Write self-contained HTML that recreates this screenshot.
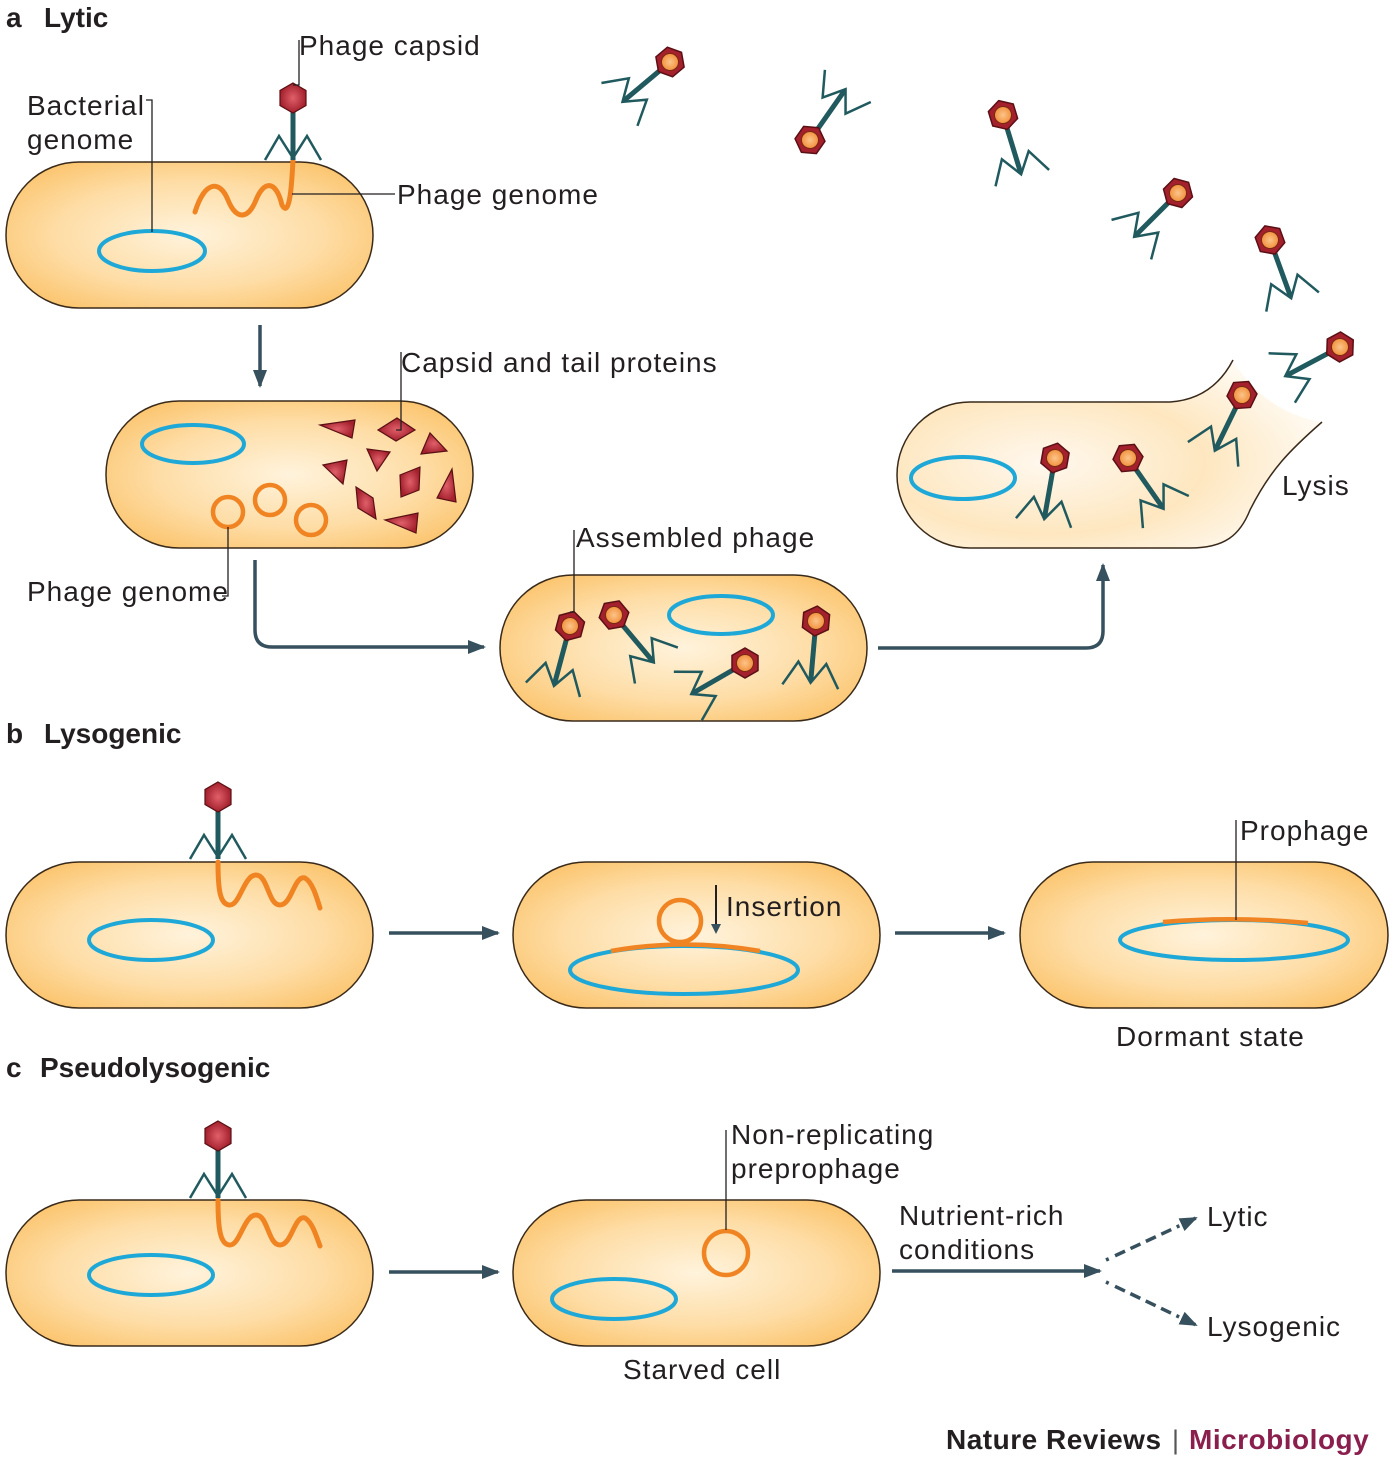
<!DOCTYPE html>
<html><head><meta charset="utf-8"><style>
body{margin:0;background:#fff}
svg{display:block}
text{font-family:"Liberation Sans",sans-serif;fill:#231f20}
.t{font-size:28px;letter-spacing:1px}
.h{font-size:28px;font-weight:bold}
</style></head><body>
<svg width="1395" height="1463" viewBox="0 0 1395 1463" xmlns="http://www.w3.org/2000/svg">
<defs>
<radialGradient id="cg" cx="50%" cy="50%" r="60%">
<stop offset="0" stop-color="#fff3dc"/><stop offset="0.6" stop-color="#fedda6"/><stop offset="1" stop-color="#fbc56f"/>
</radialGradient>
<radialGradient id="lg" cx="35%" cy="55%" r="75%">
<stop offset="0" stop-color="#fff8ee"/><stop offset="0.5" stop-color="#fee7c0"/><stop offset="1" stop-color="#fff"/>
</radialGradient>
<radialGradient id="hg"><stop offset="0" stop-color="#e0606a"/><stop offset="1" stop-color="#a3202c"/></radialGradient>
<radialGradient id="og"><stop offset="0" stop-color="#fcc48a"/><stop offset="1" stop-color="#f2923e"/></radialGradient>
<g id="ph">
<line x1="0" y1="10" x2="0" y2="60" stroke="#205a5e" stroke-width="5"/>
<polyline points="-28,66 -14,42 0,62 14,42 28,66" fill="none" stroke="#205a5e" stroke-width="2.5"/>
<polygon points="0,-15 13,-7.5 13,7.5 0,15 -13,7.5 -13,-7.5" fill="#a3202c" stroke="#5a1015" stroke-width="1.5"/>
<circle r="8.5" fill="url(#og)" stroke="#7a2a10" stroke-width="1"/>
</g>
<g id="pa">
<line x1="0" y1="10" x2="0" y2="62" stroke="#205a5e" stroke-width="5"/>
<polyline points="-28,62 -14,38 0,60 14,38 28,62" fill="none" stroke="#205a5e" stroke-width="2.5"/>
<polygon points="0,-15 13,-7.5 13,7.5 0,15 -13,7.5 -13,-7.5" fill="url(#hg)" stroke="#5a1015" stroke-width="1.2"/>
</g>
<marker id="ar" markerWidth="10" markerHeight="10" refX="8" refY="5" orient="auto" markerUnits="userSpaceOnUse" viewBox="0 0 10 10"><path d="M0,0 L10,5 L0,10 z" fill="#37505e"/></marker>
<marker id="ar2" markerWidth="18" markerHeight="14" refX="16" refY="7" orient="auto" markerUnits="userSpaceOnUse"><path d="M0,0 L18,7 L0,14 z" fill="#37505e"/></marker>
</defs>

<text x="6" y="27" class="h">a</text><text x="44" y="27" class="h">Lytic</text>
<text x="6" y="743" class="h">b</text><text x="44" y="743" class="h">Lysogenic</text>
<text x="6" y="1077" class="h">c</text><text x="40" y="1077" class="h">Pseudolysogenic</text>

<rect x="6" y="162" width="367" height="146" rx="73" fill="url(#cg)" stroke="#3a2a1a" stroke-width="1.5"/>
<ellipse cx="152" cy="251" rx="53" ry="20" fill="none" stroke="#1ea8d8" stroke-width="4"/>
<path d="M195,212 C205,180 220,180 228,200 C236,220 248,220 256,200 C264,180 276,180 282,205 C290,220 292,180 293,160" fill="none" stroke="#f08423" stroke-width="5" stroke-linecap="round"/>
<use href="#pa" x="293" y="98"/>
<polyline points="293,85 299,85 299,40" fill="none" stroke="#231f20" stroke-width="1.3"/>
<text x="299" y="55" class="t">Phage capsid</text>
<polyline points="146,100 152,100 152,232" fill="none" stroke="#231f20" stroke-width="1.3"/>
<text x="27" y="115" class="t">Bacterial</text><text x="27" y="149" class="t">genome</text>
<line x1="292" y1="194" x2="395" y2="194" stroke="#231f20" stroke-width="1.3"/>
<text x="397" y="204" class="t">Phage genome</text>

<line x1="260" y1="325" x2="260" y2="386" stroke="#37505e" stroke-width="3.5" marker-end="url(#ar2)"/>

<rect x="106" y="401" width="367" height="147" rx="73" fill="url(#cg)" stroke="#3a2a1a" stroke-width="1.5"/>
<ellipse cx="193" cy="444" rx="51" ry="19" fill="none" stroke="#1ea8d8" stroke-width="4"/>
<g fill="none" stroke="#f08423" stroke-width="4.5">
<circle cx="228" cy="512" r="15"/><circle cx="270" cy="500" r="15"/><circle cx="311" cy="520" r="15"/>
</g>
<g fill="url(#hg)" stroke="#5a1015" stroke-width="1.2">
<polygon points="320,425 355,420 352,438"/>
<polygon points="378,430 397,418 415,430 396,441"/>
<polygon points="421,454 430,433 447,451"/>
<polygon points="367,449 390,452 377,471"/>
<polygon points="323,465 347,460 343,484"/>
<polygon points="400,475 420,467 419,490 401,497"/>
<polygon points="356,487 373,498 376,519 358,508"/>
<polygon points="385,520 418,513 416,533"/>
<polygon points="437,498 452,469 456,502"/>
</g>
<polyline points="396,430 401,430 401,352" fill="none" stroke="#231f20" stroke-width="1.3"/>
<text x="401" y="372" class="t">Capsid and tail proteins</text>
<polyline points="228,527 228,596 222,596" fill="none" stroke="#231f20" stroke-width="1.3"/>
<text x="27" y="601" class="t">Phage genome</text>

<path d="M255,560 L255,630 Q255,647 272,647 L484,647" fill="none" stroke="#37505e" stroke-width="3.5" marker-end="url(#ar2)"/>

<rect x="500" y="575" width="367" height="146" rx="73" fill="url(#cg)" stroke="#3a2a1a" stroke-width="1.5"/>
<ellipse cx="721" cy="615" rx="52" ry="19" fill="none" stroke="#1ea8d8" stroke-width="4"/>
<use href="#ph" transform="translate(570,626) rotate(15)"/>
<use href="#ph" transform="translate(614,615) rotate(-40)"/>
<use href="#ph" transform="translate(745,663) rotate(60)"/>
<use href="#ph" transform="translate(816,621) rotate(5)"/>
<polyline points="570,612 574,612 574,530" fill="none" stroke="#231f20" stroke-width="1.3"/>
<text x="576" y="547" class="t">Assembled phage</text>

<path d="M878,648 L1086,648 Q1103,648 1103,631 L1103,565" fill="none" stroke="#37505e" stroke-width="3.5" marker-end="url(#ar2)"/>

<path d="M970,402 L1170,402 C1200,400 1220,385 1233,360 C1250,390 1280,415 1322,422 C1290,450 1270,470 1250,510 C1240,535 1225,548 1190,548 L970,548 A73,73 0 0 1 970,402 Z" fill="url(#lg)" stroke="none"/>
<path d="M1233,360 C1220,385 1200,400 1170,402 L970,402 A73,73 0 0 0 970,548 L1190,548 C1225,548 1240,535 1250,510 C1270,470 1290,450 1322,422" fill="none" stroke="#3a2a1a" stroke-width="1.5"/>
<ellipse cx="963" cy="478" rx="52" ry="21" fill="none" stroke="#1ea8d8" stroke-width="4"/>
<text x="1282" y="495" class="t">Lysis</text>
<use href="#ph" transform="translate(1055,458) rotate(10)"/>
<use href="#ph" transform="translate(1128,458) rotate(-35)"/>
<use href="#ph" transform="translate(1242,395) rotate(26)"/>
<use href="#ph" transform="translate(670,62) rotate(50)"/>
<use href="#ph" transform="translate(810,140) rotate(215)"/>
<use href="#ph" transform="translate(1003,115) rotate(-17)"/>
<use href="#ph" transform="translate(1178,193) rotate(45)"/>
<use href="#ph" transform="translate(1270,240) rotate(-20)"/>
<use href="#ph" transform="translate(1340,347) rotate(62)"/>

<rect x="6" y="862" width="367" height="146" rx="73" fill="url(#cg)" stroke="#3a2a1a" stroke-width="1.5"/>
<ellipse cx="151" cy="940" rx="62" ry="20" fill="none" stroke="#1ea8d8" stroke-width="4"/>
<path d="M218,862 C218,890 220,905 230,905 C240,905 244,875 256,875 C268,875 268,905 280,905 C292,905 294,875 305,878 C312,882 316,895 320,908" fill="none" stroke="#f08423" stroke-width="5" stroke-linecap="round"/>
<use href="#pa" x="218" y="797"/>
<line x1="389" y1="933" x2="498" y2="933" stroke="#37505e" stroke-width="3.5" marker-end="url(#ar2)"/>

<rect x="513" y="862" width="367" height="146" rx="73" fill="url(#cg)" stroke="#3a2a1a" stroke-width="1.5"/>
<ellipse cx="684" cy="970" rx="114" ry="24" fill="none" stroke="#1ea8d8" stroke-width="4"/>
<path d="M611,951 Q684,938 760,951" fill="none" stroke="#f08423" stroke-width="4.5"/>
<circle cx="680" cy="921" r="21" fill="none" stroke="#f08423" stroke-width="4.5"/>
<line x1="716" y1="885" x2="716" y2="932" stroke="#231f20" stroke-width="2" marker-end="url(#ar)"/>
<text x="726" y="916" class="t">Insertion</text>
<line x1="895" y1="933" x2="1004" y2="933" stroke="#37505e" stroke-width="3.5" marker-end="url(#ar2)"/>

<rect x="1020" y="862" width="368" height="146" rx="73" fill="url(#cg)" stroke="#3a2a1a" stroke-width="1.5"/>
<ellipse cx="1234" cy="940" rx="114" ry="20" fill="none" stroke="#1ea8d8" stroke-width="4"/>
<path d="M1163,922 Q1234,916 1308,923" fill="none" stroke="#f08423" stroke-width="4.5"/>
<line x1="1236" y1="920" x2="1236" y2="820" stroke="#231f20" stroke-width="1.3"/>
<text x="1240" y="840" class="t">Prophage</text>
<text x="1116" y="1046" class="t">Dormant state</text>

<rect x="6" y="1200" width="367" height="146" rx="73" fill="url(#cg)" stroke="#3a2a1a" stroke-width="1.5"/>
<ellipse cx="151" cy="1275" rx="62" ry="20" fill="none" stroke="#1ea8d8" stroke-width="4"/>
<path d="M218,1200 C218,1228 220,1245 230,1245 C240,1245 244,1215 256,1215 C268,1215 268,1245 280,1245 C292,1245 294,1215 305,1218 C312,1222 316,1235 320,1246" fill="none" stroke="#f08423" stroke-width="5" stroke-linecap="round"/>
<use href="#pa" x="218" y="1136"/>
<line x1="389" y1="1272" x2="498" y2="1272" stroke="#37505e" stroke-width="3.5" marker-end="url(#ar2)"/>

<rect x="513" y="1200" width="367" height="146" rx="73" fill="url(#cg)" stroke="#3a2a1a" stroke-width="1.5"/>
<ellipse cx="614" cy="1299" rx="62" ry="20" fill="none" stroke="#1ea8d8" stroke-width="4"/>
<circle cx="726" cy="1253" r="22" fill="none" stroke="#f08423" stroke-width="4.5"/>
<line x1="726" y1="1230" x2="726" y2="1130" stroke="#231f20" stroke-width="1.3"/>
<text x="731" y="1144" class="t">Non-replicating</text><text x="731" y="1178" class="t">preprophage</text>
<text x="623" y="1379" class="t">Starved cell</text>
<line x1="892" y1="1271" x2="1100" y2="1271" stroke="#37505e" stroke-width="3.5" marker-end="url(#ar2)"/>
<text x="899" y="1225" class="t">Nutrient-rich</text><text x="899" y="1259" class="t">conditions</text>
<line x1="1106" y1="1260" x2="1196" y2="1218" stroke="#37505e" stroke-width="3.5" stroke-dasharray="3,7,11,6,11,6,11,6,11,6" marker-end="url(#ar2)"/>
<line x1="1106" y1="1282" x2="1196" y2="1325" stroke="#37505e" stroke-width="3.5" stroke-dasharray="3,7,11,6,11,6,11,6,11,6" marker-end="url(#ar2)"/>
<text x="1207" y="1226" class="t">Lytic</text>
<text x="1207" y="1336" class="t">Lysogenic</text>

<text x="946" y="1449" style="font-size:28px;font-weight:bold;letter-spacing:0.5px">Nature Reviews</text>
<text x="1172" y="1449" style="font-size:27px;fill:#555">|</text>
<text x="1189" y="1449" style="font-size:28px;font-weight:bold;fill:#8a1f4e;letter-spacing:0.5px">Microbiology</text>
</svg>
</body></html>
